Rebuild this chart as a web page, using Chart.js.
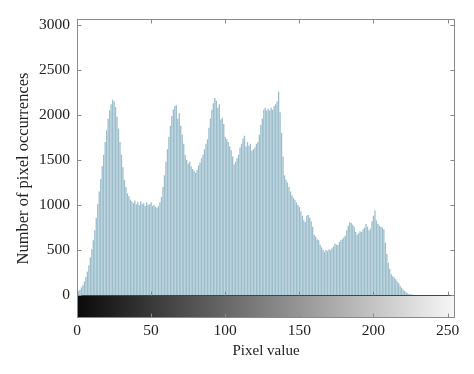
<!DOCTYPE html>
<html>
<head>
<meta charset="utf-8">
<script src="https://cdn.jsdelivr.net/npm/chart.js@4.4.1/dist/chart.umd.min.js"></script>
<style>
  html, body { margin: 0; padding: 0; background: #fff; }
  #wrap { width: 474px; height: 374px; }
</style>
</head>
<body>
<div id="wrap"><canvas id="chart"></canvas></div>
<script>
// pixel values 0..255
const pixelValues = Array.from({ length: 256 }, (_, i) => i)

// occurrences, one per pixel value
const occurrences = [
    30, 45, 60, 85, 110, 150, 200, 260, 330, 420,
    510, 610, 720, 860, 1010, 1150, 1290, 1430, 1560, 1700,
    1830, 1960, 2050, 2120, 2170, 2150, 2090, 1980, 1850, 1700,
    1560, 1420, 1280, 1200, 1130, 1100, 1060, 1040, 1020, 1050,
    1010, 1030, 1000, 1040, 1010, 1020, 990, 1030, 1000, 1010,
    1030, 990, 1000, 980, 970, 990, 1030, 1090, 1200, 1330,
    1480, 1620, 1760, 1880, 1990, 2060, 2100, 2110, 1960, 2020,
    1880, 1780, 1680, 1560, 1500, 1460, 1480, 1430, 1400, 1380,
    1360, 1390, 1440, 1470, 1520, 1560, 1620, 1680, 1730, 1860,
    1960, 2060, 2130, 2190, 2160, 2080, 2120, 1950, 1970, 1900,
    1760, 1730, 1700, 1650, 1610, 1540, 1450, 1480, 1520, 1560,
    1640, 1680, 1740, 1770, 1650, 1700, 1660, 1680, 1600, 1620,
    1640, 1680, 1700, 1780, 1890, 1960, 2060, 2080, 2050, 2070,
    2050, 2080, 2060, 2100, 2120, 2150, 2260, 2030, 1800, 1540,
    1330, 1280, 1250, 1200, 1150, 1110, 1080, 1060, 1030, 1000,
    980, 930, 880, 830, 810, 880, 890, 860, 820, 760,
    670, 650, 620, 610, 560, 530, 500, 480, 500, 490,
    510, 500, 520, 540, 570, 560, 555, 590, 610, 620,
    640, 660, 720, 770, 810, 800, 780, 760, 700, 670,
    690, 710, 700, 730, 750, 790, 760, 720, 740, 820,
    880, 940, 830, 790, 770, 760, 750, 730, 580, 460,
    360, 290, 230, 210, 195, 175, 150, 130, 100, 80,
    60, 45, 30, 20, 12, 8, 5, 3, 0, 0,
    0, 0, 0, 0, 0, 0, 0, 0, 0, 0,
    0, 0, 0, 0, 0, 0, 0, 0, 0, 0,
    0, 0, 0, 0, 0, 0
]

const xTicks = [0, 50, 100, 150, 200, 250]
const yTicks = [0, 500, 1000, 1500, 2000, 2500, 3000]

const FONT = "'Liberation Serif', 'Times New Roman', serif"
const BOX = '#8a8a8a'

// grey strip under the axis plus Matlab-like box with inward ticks
const frame = {
    id: 'frame',
    beforeDatasetsDraw(chart) {
        const { ctx, chartArea, scales } = chart
        const x = scales.x, y = scales.y
        const y0 = y.getPixelForValue(0)
        const g = ctx.createLinearGradient(x.getPixelForValue(0), 0, x.getPixelForValue(255), 0)
        g.addColorStop(0, '#0a0a0a')
        g.addColorStop(1, '#f7f7f7')
        ctx.save()
        ctx.fillStyle = g
        ctx.fillRect(chartArea.left, y0, chartArea.right - chartArea.left, chartArea.bottom - y0)
        ctx.restore()
    },
    afterDatasetsDraw(chart) {
        const { ctx, chartArea, scales } = chart
        const x = scales.x, y = scales.y
        const y0 = Math.round(y.getPixelForValue(0)) + 0.5
        const L = chartArea.left + 0.5, R = chartArea.right - 0.5
        const T = chartArea.top + 0.5, B = chartArea.bottom - 0.5
        const len = 4
        ctx.save()
        ctx.lineWidth = 1
        ctx.strokeStyle = BOX
        ctx.strokeRect(L, T, R - L, B - T)
        // zero line on top of the strip
        ctx.strokeStyle = '#444'
        ctx.beginPath()
        ctx.moveTo(L, y0); ctx.lineTo(R, y0)
        ctx.stroke()
        ctx.strokeStyle = BOX
        ctx.beginPath()
        for (const v of xTicks) {
            const px = Math.round(x.getPixelForValue(v)) + 0.5
            ctx.moveTo(px, T); ctx.lineTo(px, T + len)
            ctx.moveTo(px, B); ctx.lineTo(px, B - len)
            ctx.moveTo(px, y0); ctx.lineTo(px, y0 - len)
        }
        for (const v of yTicks) {
            const py = Math.round(y.getPixelForValue(v)) + 0.5
            ctx.moveTo(L, py); ctx.lineTo(L + len, py)
            ctx.moveTo(R, py); ctx.lineTo(R - len, py)
        }
        ctx.stroke()
        ctx.restore()
    }
}

new Chart(document.getElementById('chart'), {
    type: 'bar',
    data: {
        datasets: [{
            label: 'Pixel occurrences',
            data: pixelValues.map((p, i) => ({ x: p, y: occurrences[i] })),
            backgroundColor: '#9bbdcc',
            borderWidth: 0,
            barPercentage: 1,
            categoryPercentage: 0.88
        }]
    },
    options: {
        responsive: true,
        maintainAspectRatio: false,
        animation: false,
        layout: { padding: { top: 19, right: 19, left: 0, bottom: 0 } },
        plugins: {
            legend: { display: false },
            tooltip: { enabled: false }
        },
        scales: {
            x: {
                type: 'linear',
                min: 0,
                max: 255,
                offset: false,
                afterBuildTicks: s => { s.ticks = xTicks.map(v => ({ value: v })) },
                afterFit: s => { s.height = 56 },
                grid: { display: false, drawTicks: false },
                border: { display: false },
                ticks: {
                    padding: 4,
                    color: '#222',
                    maxRotation: 0,
                    callback: v => String(v),
                    font: { family: FONT, size: 15.5 }
                },
                title: {
                    display: true,
                    text: 'Pixel value',
                    color: '#222',
                    padding: { top: 2, bottom: 14 },
                    font: { family: FONT, size: 15 }
                }
            },
            y: {
                min: -255,
                max: 3067,
                afterBuildTicks: s => { s.ticks = yTicks.map(v => ({ value: v })) },
                afterFit: s => { s.width = 77 },
                grid: { display: false, drawTicks: false },
                border: { display: false },
                ticks: {
                    padding: 7,
                    color: '#222',
                    callback: v => String(v),
                    font: { family: FONT, size: 15.5 }
                },
                title: {
                    display: true,
                    text: 'Number of pixel occurrences',
                    color: '#222',
                    padding: { top: 14, bottom: 0 },
                    font: { family: FONT, size: 16.5 }
                }
            }
        }
    },
    plugins: [frame]
})
</script>
</body>
</html>
